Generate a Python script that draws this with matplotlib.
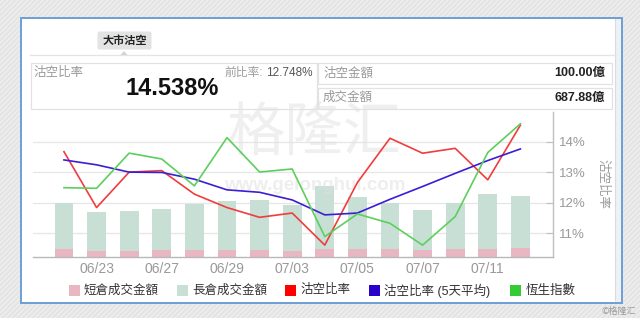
import numpy as np
import matplotlib
matplotlib.use("Agg")
import matplotlib.pyplot as plt
from matplotlib.patches import Rectangle, FancyBboxPatch, Polygon

plt.rcParams['font.family'] = ['Liberation Sans', 'Noto Sans CJK TC', 'DejaVu Sans']

# ---------------- data ----------------
dates = ['06/22', '06/23', '06/26', '06/27', '06/28', '06/29', '06/30', '07/03',
         '07/04', '07/05', '07/06', '07/07', '07/10', '07/11', '07/12']
short_turnover = [83.7, 60.4, 67.7, 70.5, 73.7, 74.7, 73.6, 68.3,
                  85.0, 86.1, 86.4, 72.0, 84.3, 90.3, 100.00]          # 億
long_turnover = [528.3, 449.6, 453.3, 469.5, 526.3, 556.3, 565.4, 517.7,
                 716.0, 593.9, 525.6, 457.0, 527.7, 616.7, 587.88]     # 億
short_ratio = [13.67, 11.84, 13.00, 13.05, 12.28, 11.84, 11.52, 11.66,
               10.61, 12.66, 14.11, 13.62, 13.78, 12.748, 14.538]      # %
ratio_5d = [13.40, 13.24, 13.00, 12.99, 12.77, 12.42, 12.34, 12.09,
            11.60, 11.66, 12.11, 12.53, 12.96, 13.38, 13.76]           # %
hsi = [25622, 25619, 25792, 25763, 25631, 25868, 25699, 25714,
       25382, 25493, 25447, 25340, 25480, 25795, 25936]
pct_ticks = [11, 12, 13, 14]
pct_labels = ['11%', '12%', '13%', '14%']
legend_labels = ['短倉成交金額', '長倉成交金額', '沽空比率', '沽空比率 (5天平均)', '恆生指數']

C_SHORT = '#e8b7c2'
C_LONG = '#c7dfd5'
C_RED = '#f03c3c'
C_BLUE = '#3a1ed6'
C_GREEN = '#5ccf5c'

W, H = 640, 318
fig = plt.figure(figsize=(W / 100, H / 100), dpi=100)
fig.patch.set_facecolor('#e4e4e4')

# ---------------- background layer (pixel coords) ----------------
bg = fig.add_axes([0, 0, 1, 1], zorder=0)
bg.set_xlim(0, W); bg.set_ylim(H, 0); bg.axis('off')
for k in range(-330, 660, 5):
    bg.plot([k, k + H], [H, 0], color='white', lw=0.9, alpha=0.45, zorder=0)

bg.add_patch(Rectangle((20.5, 17.5), 601.5, 285, fc='white', ec='#6c9fd6', lw=1.4, zorder=1))
bg.add_patch(Rectangle((615, 19), 6, 282.5, fc='#eef1f5', ec='none', zorder=1.5))
bg.plot([615, 615], [19, 300], color='#dcdcdc', lw=0.8, zorder=1.6)

# tab
bg.add_patch(FancyBboxPatch((97.5, 31.5), 54, 18, boxstyle='round,pad=0,rounding_size=2',
                            fc='#e3e3e3', ec='none', zorder=2))
bg.text(124.5, 40.5, '大市沽空', ha='center', va='center', fontsize=8, fontweight='bold',
        color='#222222', zorder=3)
bg.add_patch(Polygon([(120.5, 55), (127.5, 55), (124, 51)], closed=True, fc='#d4d4d4',
                     ec='none', zorder=2))
bg.plot([30, 615], [54.5, 54.5], color='#e4e4e4', lw=0.9, zorder=2)

# info boxes
bg.add_patch(Rectangle((30.5, 62.5), 286.5, 46, fc='none', ec='#e2e2e2', lw=0.9, zorder=2))
bg.add_patch(Rectangle((317.5, 62.5), 294, 21.5, fc='none', ec='#e2e2e2', lw=0.9, zorder=2))
bg.add_patch(Rectangle((317.5, 87.5), 294, 21, fc='none', ec='#e2e2e2', lw=0.9, zorder=2))

bg.text(33, 73, '沽空比率', ha='left', va='center', fontsize=9, color='#9a9a9a', zorder=3)
bg.text(172.5, 88.5, '14.538%', ha='center', va='center', fontsize=17, fontweight='bold',
        color='#111111', zorder=3)
bg.text(263, 73, '前比率:', ha='right', va='center', fontsize=8.5, color='#9a9a9a', zorder=3)
bg.text(313, 73, '12.748%', ha='right', va='center', fontsize=8.5, color='#555555', zorder=3)
bg.text(323, 73.5, '沽空金額', ha='left', va='center', fontsize=9, color='#9a9a9a', zorder=3)
bg.text(605, 73, '100.00億', ha='right', va='center', fontsize=9, fontweight='bold',
        color='#222222', zorder=3)
bg.text(323, 98, '成交金額', ha='left', va='center', fontsize=9, color='#9a9a9a', zorder=3)
bg.text(605, 97.5, '687.88億', ha='right', va='center', fontsize=9, fontweight='bold',
        color='#222222', zorder=3)

# right axis title
bg.text(602.5, 184, '沽空比率', ha='center', va='center', rotation=270, fontsize=9,
        color='#9a9a9a', zorder=3)

# legend
leg_colors = [C_SHORT, C_LONG, '#ff0000', '#2a00cc', '#33cc33']
sq_x = [68.5, 176.5, 285, 369, 510]
for c, sx, lab in zip(leg_colors, sq_x, legend_labels):
    bg.add_patch(Rectangle((sx, 285), 11, 11, fc=c, ec='none', zorder=3))
    bg.text(sx + 15.5, 290.5, lab, ha='left', va='center', fontsize=9, color='#333333', zorder=3)

bg.text(636, 311, '©格隆汇', ha='right', va='center', fontsize=6.5, color='#9a9a9a',
        family=['Noto Sans CJK SC', 'DejaVu Sans'], zorder=3)

# ---------------- chart ----------------
x = np.arange(len(dates))
rect = [33 / W, (H - 256.7) / H, 520 / W, 144.7 / H]
ax = fig.add_axes(rect, zorder=1)
ax.patch.set_visible(False)
ax.set_xlim(-0.95, 15.0)
ax.set_ylim(10.23, 14.97)

# bars
axb = ax.twinx()
axb.set_zorder(2)
axb.patch.set_visible(False)
axb.set_ylim(0, 1640)
axb.yaxis.set_visible(False)
for s in ['top', 'left', 'right']:
    axb.spines[s].set_visible(False)
axb.spines['bottom'].set_color('#b8b8b8')
axb.spines['bottom'].set_linewidth(1.0)
axb.bar(x, short_turnover, width=0.58, color=C_SHORT, lw=0)
axb.bar(x, long_turnover, bottom=short_turnover, width=0.58, color=C_LONG, lw=0)

# watermark layer
wm = fig.add_axes([0, 0, 1, 1], zorder=3)
wm.set_xlim(0, W); wm.set_ylim(H, 0); wm.axis('off')
wm.text(314, 133, '格隆汇', ha='center', va='center', fontsize=42, color='#e2e2e2',
        alpha=0.55, family=['Noto Sans CJK SC', 'DejaVu Sans'])
wm.text(315, 185, 'www.gelonghui.com', ha='center', va='center', fontsize=13.5,
        fontweight='bold', color='#e0e0e0', alpha=0.55)

# ratio lines
axl = ax.twinx()
axl.set_zorder(4)
axl.patch.set_visible(False)
axl.set_ylim(10.23, 14.97)
axl.yaxis.set_visible(False)
for s in axl.spines.values():
    s.set_visible(False)
axl.plot(x, short_ratio, color=C_RED, lw=1.2)
axl.plot(x, ratio_5d, color=C_BLUE, lw=1.2)

# HSI line (hidden axis)
axh = ax.twinx()
axh.set_zorder(5)
axh.patch.set_visible(False)
axh.set_ylim(25283, 25994)
axh.yaxis.set_visible(False)
for s in axh.spines.values():
    s.set_visible(False)
axh.plot(x, hsi, color=C_GREEN, lw=1.2)

# percent axis styling (after twins, which reset tick side)
ax.yaxis.tick_right()
ax.yaxis.set_label_position('right')
ax.set_yticks(pct_ticks)
ax.set_yticklabels(pct_labels)
ax.tick_params(axis='y', which='both', left=False, labelleft=False, right=True,
               labelright=True, direction='in', length=5, color='#c0c0c0',
               labelsize=9.5, labelcolor='#999999', pad=4)
ax.set_xticks(x[1::2])
ax.set_xticklabels(dates[1::2])
ax.tick_params(axis='x', length=0, labelsize=10, labelcolor='#999999', pad=4)
ax.grid(axis='y', color='#e6e6e6', lw=0.9)
ax.set_axisbelow(True)
for s in ['top', 'left', 'bottom']:
    ax.spines[s].set_visible(False)
ax.spines['right'].set_visible(True)
ax.spines['right'].set_color('#c0c0c0')
ax.spines['right'].set_linewidth(1.0)

fig.savefig('out.png', dpi=100)
